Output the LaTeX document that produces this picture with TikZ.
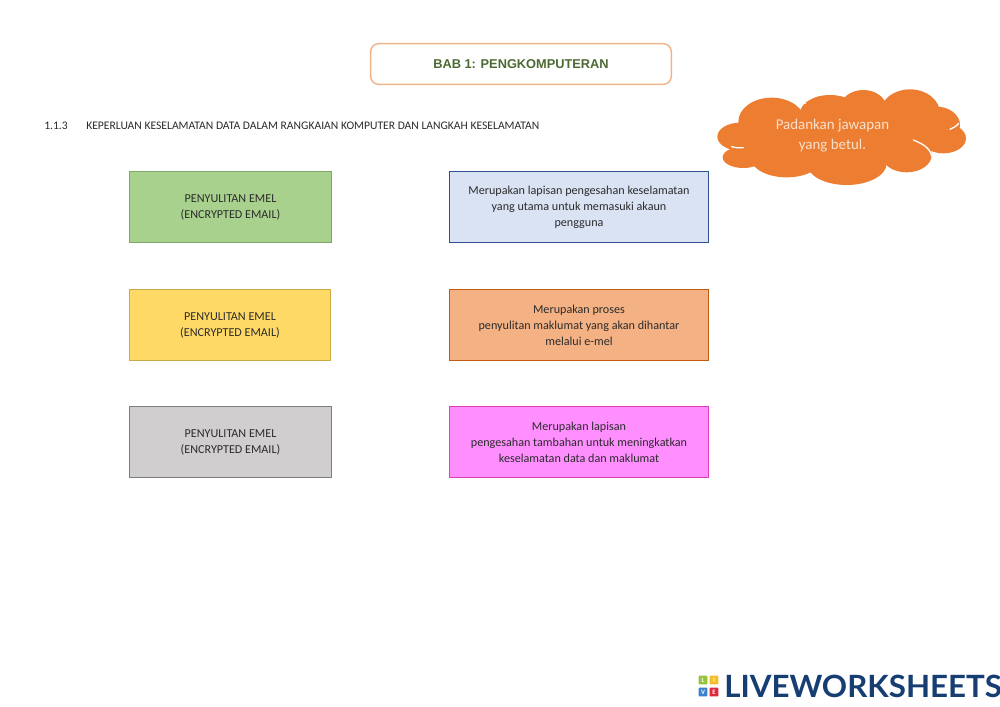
\documentclass[tikz,border=0pt]{standalone}
\usepackage{fontspec}
\setmainfont{Carlito}
\newfontfamily\headfont{Liberation Sans}
\newfontfamily\logofont{Lato}
\definecolor{txt}{HTML}{2B2B2B}
\definecolor{cloudfill}{HTML}{ED7D31}
\definecolor{cloudtxt}{HTML}{FAE1CD}
\definecolor{titleline}{HTML}{F0B48A}
\definecolor{titletxt}{HTML}{4B6A33}
\definecolor{gF}{HTML}{A9D18E}\definecolor{gD}{HTML}{7FA868}
\definecolor{yF}{HTML}{FFD966}\definecolor{yD}{HTML}{C8AA46}
\definecolor{kF}{HTML}{D0CECE}\definecolor{kD}{HTML}{7D7D7D}
\definecolor{bF}{HTML}{DAE3F3}\definecolor{bD}{HTML}{2F528F}
\definecolor{oF}{HTML}{F4B183}\definecolor{oD}{HTML}{C55A11}
\definecolor{mF}{HTML}{FF8EFF}\definecolor{mD}{HTML}{E03CBE}
\definecolor{logoL}{HTML}{96C33C}\definecolor{logoI}{HTML}{F5BE28}
\definecolor{logoV}{HTML}{3C82CD}\definecolor{logoE}{HTML}{E1283C}
\definecolor{logoT}{HTML}{163E73}
\tikzset{
 px/.style={x=0.75pt,y=-0.75pt},
 card/.style={draw=#1,line width=1pt,text=txt,align=center,font=\fontsize{9.1pt}{12pt}\selectfont,inner sep=0pt},
 lobe/.style={fill=cloudfill,draw=none},
 crease/.style={draw=white,line width=1pt,line cap=round},
 tile/.style={minimum size=6.6pt,inner sep=0pt,text=white,font=\bfseries\fontsize{5pt}{5pt}\selectfont,rounded corners=0.6pt},
 plain/.style={anchor=west,inner sep=0pt,text=txt,font=\fontsize{8.7pt}{10pt}\selectfont}
}
\begin{document}
\begin{tikzpicture}[px]
\useasboundingbox[fill=white] (0,0) rectangle (1000,707);
% header
\node[draw=titleline,line width=1.1pt,rounded corners=6pt,fill=white,minimum width=225.5pt,minimum height=30.5pt,inner sep=0pt,text=titletxt,font=\headfont\bfseries\fontsize{9.6pt}{11pt}\selectfont] (title) at (521,64) {BAB 1: PENGKOMPUTERAN};
\node[plain] (num) at (44,126) {1.1.3};
\node[plain] (sub) at (86,126) {KEPERLUAN KESELAMATAN DATA DALAM RANGKAIAN KOMPUTER DAN LANGKAH KESELAMATAN};
% left cards
\node[card=gD,fill=gF,minimum width=151.5pt,minimum height=53pt] (l1) at (230.5,207) {PENYULITAN EMEL\\(ENCRYPTED EMAIL)};
\node[card=yD,fill=yF,minimum width=151pt,minimum height=53pt] (l2) at (230,325) {PENYULITAN EMEL\\(ENCRYPTED EMAIL)};
\node[card=kD,fill=kF,minimum width=151.5pt,minimum height=53pt] (l3) at (230.5,442) {PENYULITAN EMEL\\(ENCRYPTED EMAIL)};
% right cards
\node[card=bD,fill=bF,minimum width=194.5pt,minimum height=53.5pt] (r1) at (579,207) {Merupakan lapisan pengesahan keselamatan\\yang utama untuk memasuki akaun\\pengguna};
\node[card=oD,fill=oF,minimum width=194.5pt,minimum height=53pt] (r2) at (579,325) {Merupakan proses\\penyulitan maklumat yang akan dihantar\\melalui e-mel};
\node[card=mD,fill=mF,minimum width=194.5pt,minimum height=53pt] (r3) at (579,442) {Merupakan lapisan\\pengesahan tambahan untuk meningkatkan\\keselamatan data dan maklumat};
% cloud
\begin{scope}[shift={(700,80)},x=0.25pt,y=-0.25pt]
\foreach \cx/\cy/\rx/\ry in {120/170/68/42, 130/232/62/32, 215/125/100/72, 390/100/90/55, 490/85/70/55, 630/100/90/72, 710/135/70/55, 730/175/68/45, 620/225/75/52, 440/250/120/65, 260/230/110/62, 420/170/260/90}
  \fill[lobe] (\cx,\cy) ellipse [x radius=\rx, y radius=\ry];
\draw[crease] (95,200) .. controls (110,204) and (120,204) .. (130,203);
\draw[crease] (640,180) .. controls (670,192) and (690,205) .. (695,228);
\draw[crease] (750,148) .. controls (760,144) and (770,138) .. (776,130);
\draw[crease] (275,52) .. controls (290,58) and (305,64) .. (316,70);
\draw[crease] (155,262) .. controls (162,264) and (166,266) .. (170,268);
\end{scope}
\node[align=center,text=cloudtxt,inner sep=0pt,font=\fontsize{11.2pt}{15pt}\selectfont] (cloud) at (832.5,136) {Padankan jawapan\\yang betul.};
% logo
\node[tile,fill=logoL] (tl) at (703,680) {L};
\node[tile,fill=logoI] (ti) at (714,680) {I};
\node[tile,fill=logoV] (tv) at (703,692) {V};
\node[tile,fill=logoE] (te) at (714,692) {E};
\node[anchor=west,inner sep=0pt,xscale=1.02,font=\logofont\bfseries\fontsize{23pt}{24pt}\selectfont,text=logoT] (logo) at (724,686) {LIVEWORKSHEETS};
\end{tikzpicture}
\end{document}
